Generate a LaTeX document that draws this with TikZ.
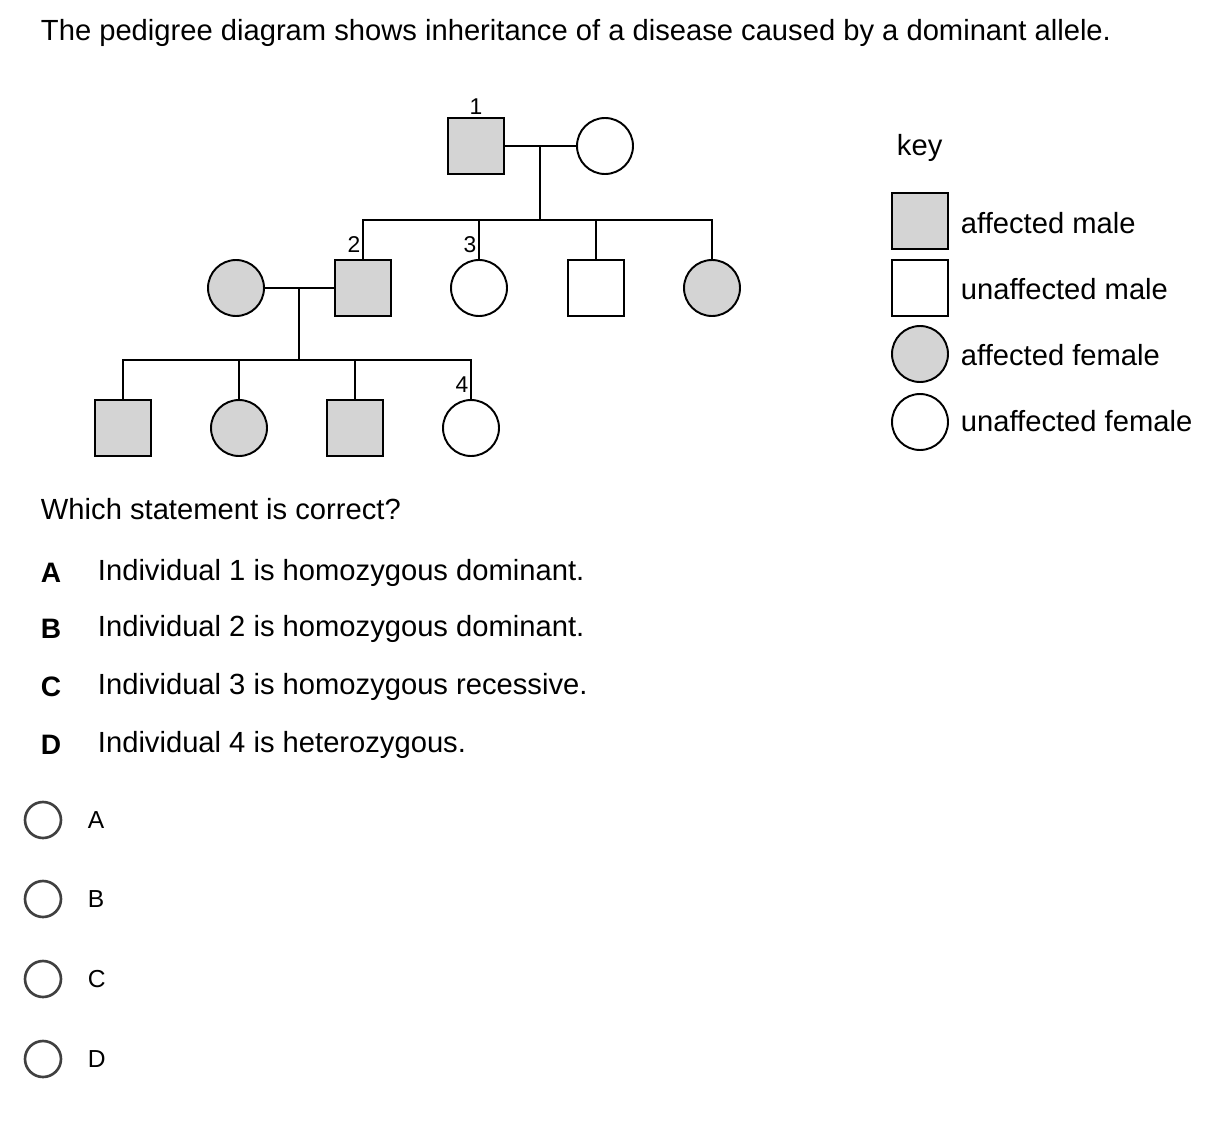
\documentclass[tikz,border=0pt]{standalone}
\usepackage{fontspec}
\setmainfont{Liberation Sans}
\usetikzlibrary{calc}
\definecolor{affgray}{HTML}{D4D4D4}
\begin{document}
\begin{tikzpicture}[x=0.02cm, y=-0.02cm, line width=1.1pt,
	male/.style={draw, rectangle, minimum size=1.12cm, inner sep=0pt},
	female/.style={draw, circle, minimum size=1.12cm, inner sep=0pt},
	aff/.style={fill=affgray},
	num/.style={font=\fontsize{13}{15}\selectfont, inner sep=1pt},
	txt/.style={font=\fontsize{16.6}{19}\selectfont, anchor=west, inner sep=0pt},
	radio/.style={draw=black!75, circle, line width=1.5pt, minimum size=0.72cm, inner sep=0pt}]
	\useasboundingbox (0,0) rectangle (1224,1122);
	% heading
	\node[txt] (title) at (40,33) {The pedigree diagram shows inheritance of a disease caused by a dominant allele.};
	% first generation
	\node[male, aff] (p1) at (476,146) {};
	\node[female] (m1) at (605,146) {};
	\node[num, above] at (p1.north) {1};
	\draw (p1) -- (m1);
	\coordinate (j1) at (540,146);
	\coordinate (s1) at (540,220);
	\draw (j1) -- (s1);
	% second generation
	\node[female, aff] (w2) at (236,288) {};
	\node[male, aff] (c2) at (363,288) {};
	\node[female] (c3) at (479,288) {};
	\node[male] (c5) at (596,288) {};
	\node[female, aff] (c6) at (712,288) {};
	\draw (c2.north) |- (s1) -| (c6.north);
	\draw (c3.north) -- (c3.north |- s1);
	\draw (c5.north) -- (c5.north |- s1);
	\node[num, anchor=south east] at ($(c2.north)+(0,-4)$) {2};
	\node[num, anchor=south east] at ($(c3.north)+(0,-4)$) {3};
	\draw (w2) -- (c2);
	\coordinate (j2) at (299,288);
	\coordinate (s2) at (299,360);
	\draw (j2) -- (s2);
	% third generation
	\node[male, aff] (g1) at (123,428) {};
	\node[female, aff] (g2) at (239,428) {};
	\node[male, aff] (g3) at (355,428) {};
	\node[female] (g4) at (471,428) {};
	\draw (g1.north) |- (s2) -| (g4.north);
	\draw (g2.north) -- (g2.north |- s2);
	\draw (g3.north) -- (g3.north |- s2);
	\node[num, anchor=south east] at ($(g4.north)+(0,-4)$) {4};
	% key
	\node[txt] (key) at (896,148) {key};
	\node[male, aff] (k1) at (920,221) {};
	\node[male] (k2) at (920,288) {};
	\node[female, aff] (k3) at (920,354) {};
	\node[female] (k4) at (920,422) {};
	\node[txt] at (960,223) {affected male};
	\node[txt] at (960,289) {unaffected male};
	\node[txt] at (960,355) {affected female};
	\node[txt] at (960,421) {unaffected female};
	% question
	\node[txt] (q) at (40,509) {Which statement is correct?};
	\foreach \l/\y/\s in {A/573/Individual 1 is homozygous dominant.,
		B/629/Individual 2 is homozygous dominant.,
		C/687/Individual 3 is homozygous recessive.,
		D/745/Individual 4 is heterozygous.} {
		\node[txt, font=\fontsize{16}{19}\selectfont\bfseries] at (40,\y) {\l};
		\node[txt] at (97,\y) {\s};
	}
	% answer buttons
	\foreach \l/\y in {A/820, B/899, C/979, D/1059} {
		\node[radio] (r\l) at (43,\y) {};
		\node[txt, font=\fontsize{14}{17}\selectfont] at (87,\y) {\l};
	}
\end{tikzpicture}
\end{document}
